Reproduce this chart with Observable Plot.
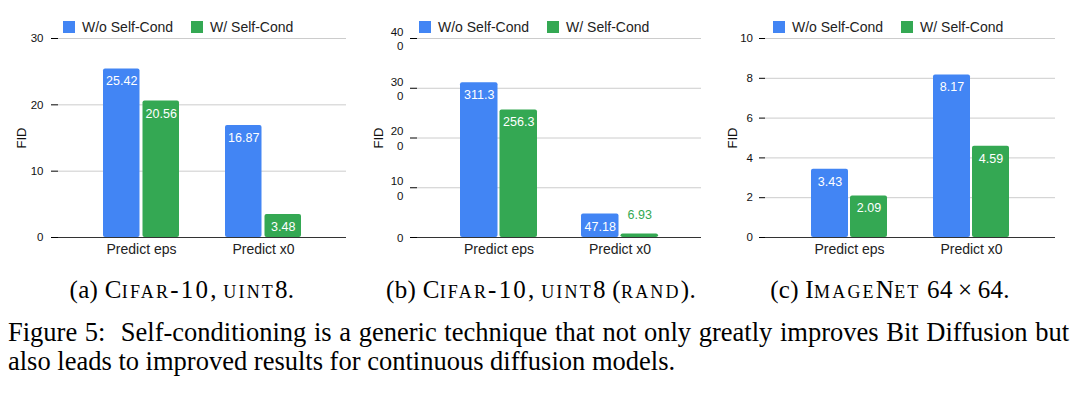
<!DOCTYPE html>
<html>
<head>
<meta charset="utf-8">
<script src="https://cdn.jsdelivr.net/npm/d3@7"></script>
<script src="https://cdn.jsdelivr.net/npm/@observablehq/plot@0.6"></script>
<style>
html, body { margin: 0; padding: 0; background: #fff; }
#root { position: relative; width: 1079px; height: 397px; overflow: hidden; background: #fff; }
.panel { position: absolute; top: 0; height: 260px; }
.chartbox { position: absolute; left: 0; top: 30px; }
.chartbox svg { display: block; overflow: visible; }
.legend { position: absolute; top: 19px; height: 12px; }
.lg-swatches { font-family: "Liberation Sans", Arial, sans-serif !important; font-size: 14px !important; color: #222 !important; margin: 0 !important; min-height: 12px !important; display: flex; align-items: center; }
.lg-swatch { margin-right: 18px !important; }
.lg-swatch > svg { margin-right: 7px !important; }
g[aria-label="y-axis label"] text { font-size: 13px; }
g[aria-label="x-axis tick label"] text { font-size: 14px; }
.sub { position: absolute; top: 279px; font-family: "Liberation Serif", "Times New Roman", serif; font-size: 25px; line-height: 22px; color: #000; white-space: nowrap; transform: translateX(-50%); letter-spacing: 0.3px; }
.sub .sc { font-variant: small-caps; letter-spacing: 2.2px; }
.cap { position: absolute; left: 8px; width: 1061px; font-family: "Liberation Serif", "Times New Roman", serif; font-size: 26.5px; line-height: 29px; color: #000; white-space: nowrap; }
#cap1 { top: 318px; text-align: justify; text-align-last: justify; white-space: normal; }
#cap2 { top: 347px; }
</style>
</head>
<body>
<div id="root"></div>
<script>
// ---- data ----
const categories = ["Predict eps", "Predict x0"];
const series = ["W/o Self-Cond", "W/ Self-Cond"];
const seriesColors = ["#4285f4", "#34a853"];

const cifarWithout = [25.42, 16.87];
const cifarWith = [20.56, 3.48];
const cifarTicks = [0, 10, 20, 30];

const randWithout = [311.3, 47.18];
const randWith = [256.3, 6.93];
const randTicks = [0, 100, 200, 300, 400];
const randTickLabels = ["0", "10\n0", "20\n0", "30\n0", "40\n0"];

const imagenetWithout = [3.43, 8.17];
const imagenetWith = [2.09, 4.59];
const imagenetTicks = [0, 2, 4, 6, 8, 10];

const yLabel = "FID";
// [brackets] mark small-caps runs
const subcaptions = ["(a) C[ifar-10], [uint]8.", "(b) C[ifar-10], [uint]8 ([rand]).", "(c) I[mage]N[et] 64\u2009×\u200964."];
const captionLine1 = "Figure 5:\u00a0 Self-conditioning is a generic technique that not only greatly improves Bit Diffusion but";
const captionLine2 = "also leads to improved results for continuous diffusion models.";

// ---- drawing ----
const root = document.getElementById("root");

function renderSub(el, s) {
  s.split(/(\[[^\]]*\])/).forEach(part => {
    if (!part) return;
    if (part[0] === "[") {
      const sp = document.createElement("span");
      sp.className = "sc";
      sp.textContent = part.slice(1, -1);
      el.appendChild(sp);
    } else {
      el.appendChild(document.createTextNode(part));
    }
  });
}

function panel(cfg) {
  const div = document.createElement("div");
  div.className = "panel";
  div.style.left = cfg.left + "px";
  div.style.width = cfg.width + "px";
  root.appendChild(div);

  const rows = categories.flatMap((c, i) => [
    {cat: c, series: series[0], value: cfg.without[i]},
    {cat: c, series: series[1], value: cfg.with[i]}
  ]);
  const ymax = cfg.ticks[cfg.ticks.length - 1];
  const inside = d => d.value / ymax > 0.06;
  const half = cfg.bandwidth / 2;
  const off = half / 2 + 0.5;
  const isA = d => d.series === series[0];
  const isB = d => d.series === series[1];
  const fmt = d => String(d.value);

  const svg = Plot.plot({
    width: cfg.width,
    height: 230,
    marginTop: 8,
    marginBottom: 23,
    marginLeft: cfg.marginLeft,
    marginRight: cfg.marginRight,
    style: {fontFamily: "'Liberation Sans', Arial, sans-serif", fontSize: "11.5px", color: "#222", background: "transparent", overflow: "visible"},
    x: {domain: categories, paddingInner: cfg.paddingInner, paddingOuter: cfg.paddingOuter, axis: null},
    y: {domain: [0, ymax], axis: null},
    color: {domain: series, range: seriesColors},
    marks: [
      Plot.gridY(cfg.ticks, {stroke: "#cccccc", strokeOpacity: 1}),
      Plot.barY(rows.filter(isA), {x: "cat", y: "value", fill: "series", insetRight: half + 1, rx: 2}),
      Plot.barY(rows.filter(isB), {x: "cat", y: "value", fill: "series", insetLeft: half + 1, rx: 2}),
      Plot.ruleY([0], {stroke: "#333"}),
      Plot.axisY({
        ticks: cfg.ticks,
        tickSize: cfg.tickSize,
        tickPadding: cfg.tickPadding,
        tickFormat: cfg.tickLabels ? (d => cfg.tickLabels[cfg.ticks.indexOf(d)]) : (d => String(d)),
        lineHeight: cfg.lineHeight || 1,
        line: true,
        stroke: "#000",
        fill: "#111",
        label: yLabel,
        labelAnchor: "center",
        labelArrow: "none",
        labelOffset: cfg.labelOffset
      }),
      Plot.axisX({tickSize: 0, tickPadding: 7, fill: "#222", label: null}),
      Plot.text(rows.filter(d => isA(d) && inside(d)), {x: "cat", y: "value", text: fmt, dx: -off, dy: 12.5, fill: "white", fontSize: 12.5, lineAnchor: "middle"}),
      Plot.text(rows.filter(d => isB(d) && inside(d)), {x: "cat", y: "value", text: fmt, dx: off, dy: 12.5, fill: "white", fontSize: 12.5, lineAnchor: "middle"}),
      Plot.text(rows.filter(d => isA(d) && !inside(d)), {x: "cat", y: "value", text: fmt, dx: -off, dy: -19, fill: "series", fontSize: 12.5, lineAnchor: "middle"}),
      Plot.text(rows.filter(d => isB(d) && !inside(d)), {x: "cat", y: "value", text: fmt, dx: off, dy: -19, fill: "series", fontSize: 12.5, lineAnchor: "middle"})
    ]
  });
  const box = document.createElement("div");
  box.className = "chartbox";
  box.appendChild(svg);
  div.appendChild(box);

  const lg = Plot.legend({color: {domain: series, range: seriesColors}, className: "lg", swatchSize: 12});
  const holder = document.createElement("div");
  holder.className = "legend";
  holder.style.left = cfg.legendLeft + "px";
  holder.appendChild(lg);
  div.appendChild(holder);

  const sub = document.createElement("div");
  sub.className = "sub";
  renderSub(sub, cfg.sub);
  sub.style.left = cfg.subCenter + "px";
  root.appendChild(sub);
}

panel({left: 0, width: 360, marginLeft: 58, marginRight: 14, paddingInner: 0.374, paddingOuter: 0.358, bandwidth: 77,
  without: cifarWithout, with: cifarWith, ticks: cifarTicks, tickSize: 7, tickPadding: 8, labelOffset: 42,
  legendLeft: 63, sub: subcaptions[0], subCenter: 182});
panel({left: 360, width: 360, marginLeft: 57, marginRight: 19, paddingInner: 0.364, paddingOuter: 0.355, bandwidth: 77,
  without: randWithout, with: randWith, ticks: randTicks, tickLabels: randTickLabels, lineHeight: 1.27, tickSize: 7, tickPadding: 7, labelOffset: 44,
  legendLeft: 59, sub: subcaptions[1], subCenter: 541});
panel({left: 720, width: 359, marginLeft: 45, marginRight: 24, paddingInner: 0.377, paddingOuter: 0.377, bandwidth: 76,
  without: imagenetWithout, with: imagenetWith, ticks: imagenetTicks, tickSize: 6, tickPadding: 6.5, labelOffset: 38,
  legendLeft: 53, sub: subcaptions[2], subCenter: 890});

const c1 = document.createElement("div");
c1.className = "cap"; c1.id = "cap1"; c1.textContent = captionLine1;
root.appendChild(c1);
const c2 = document.createElement("div");
c2.className = "cap"; c2.id = "cap2"; c2.textContent = captionLine2;
root.appendChild(c2);
</script>
</body>
</html>
